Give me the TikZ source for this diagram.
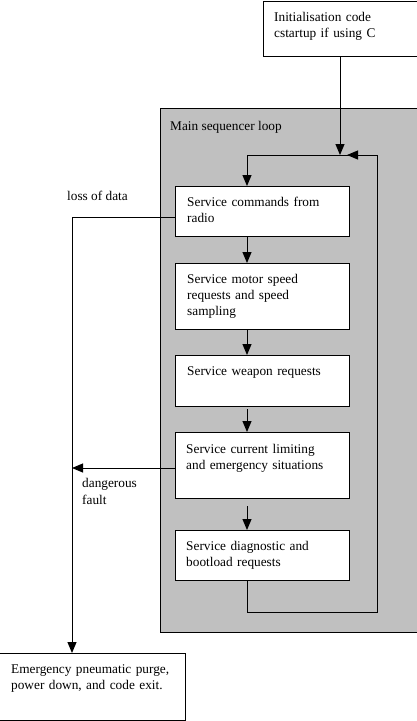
\documentclass[tikz,border=0pt]{standalone}
\usepackage{fontspec}
\setmainfont{Liberation Serif}
\usetikzlibrary{arrows.meta}
\begin{document}
\begin{tikzpicture}[x=1pt,y=-1pt,
  box/.style={draw=black,line width=1pt,fill=white,anchor=north west,inner sep=0pt},
  txt/.style={anchor=base west,inner sep=0pt,align=left,font=\fontsize{13.3}{16}\selectfont},
  arr/.style={line width=1pt,-{Triangle[length=11pt,width=9pt]}},
  ln/.style={line width=1pt}]
\useasboundingbox (0,0) rectangle (417,721);
% grey loop region
\node[box,fill={rgb,255:red,192;green,192;blue,192},minimum width=262pt,minimum height=524pt] (loop) at (160,108) {};
\node[txt] (looplbl) at (170,130) {Main sequencer loop};
% init box
\node[box,minimum width=160pt,minimum height=55pt] (init) at (263,1) {};
\node[txt,text width=150pt] (inittxt) at ([xshift=11pt,yshift=-20pt]init.north west) {Initialisation code\\[0.5pt]cstartup if using C};
% service boxes
\node[box,minimum width=174pt,minimum height=50pt] (b1) at (175,186) {};
\node[txt,text width=160pt] (t1) at ([xshift=12pt,yshift=-20pt]b1.north west) {Service commands from\\radio};
\node[box,minimum width=174pt,minimum height=66pt] (b2) at (175,263) {};
\node[txt,text width=160pt] (t2) at ([xshift=12pt,yshift=-20pt]b2.north west) {Service motor speed\\requests and speed\\sampling};
\node[box,minimum width=174pt,minimum height=51pt] (b3) at (175,355) {};
\node[txt,text width=160pt] (t3) at ([xshift=12pt,yshift=-20pt]b3.north west) {Service weapon requests};
\node[box,minimum width=174pt,minimum height=66pt] (b4) at (175,432) {};
\node[txt,text width=165pt] (t4) at ([xshift=11pt,yshift=-21pt]b4.north west) {Service current limiting\\and emergency situations};
\node[box,minimum width=174pt,minimum height=50pt] (b5) at (175,530) {};
\node[txt,text width=160pt] (t5) at ([xshift=11pt,yshift=-20pt]b5.north west) {Service diagnostic and\\bootload requests};
% emergency box
\node[box,minimum width=188pt,minimum height=67pt] (em) at (-3,653) {};
\node[txt,text width=180pt] (emtxt) at (11,673) {Emergency pneumatic purge,\\power down, and code exit.};
% labels
\node[txt] (lod) at (67,200) {loss of data};
\node[txt,text width=80pt] (dang) at (82,487) {dangerous\\[1pt]fault};
% coordinates
\coordinate (j) at (340,155);
\coordinate (tl) at (247,155);
\coordinate (mid) at (347,155);
\coordinate (tr) at (377,155);
\coordinate (lr) at (377,612);
\coordinate (ll) at (72,217);
\coordinate (df) at (72,468);
% connectors
\draw[arr] (init.south -| j) -- (j);
\draw[ln] (b5.south -| tl) |- (lr) -- (tr) -- (mid);
\draw[arr] (tr) -- (mid);
\draw[ln] (mid) -- (tl);
\draw[arr] (tl) -- (b1.north -| tl);
\draw[arr] (b1.south -| tl) -- (b2.north -| tl);
\draw[arr] (b2.south -| tl) -- (b3.north -| tl);
\draw[arr] ([yshift=-2pt]b3.south -| tl) -- (b4.north -| tl);
\draw[arr] ([yshift=-7pt]b4.south -| tl) -- (b5.north -| tl);
\draw[arr] (b1.west |- ll) -- (ll) -- (em.north -| ll);
\draw[arr] (b4.west |- df) -- (df);
\end{tikzpicture}
\end{document}
